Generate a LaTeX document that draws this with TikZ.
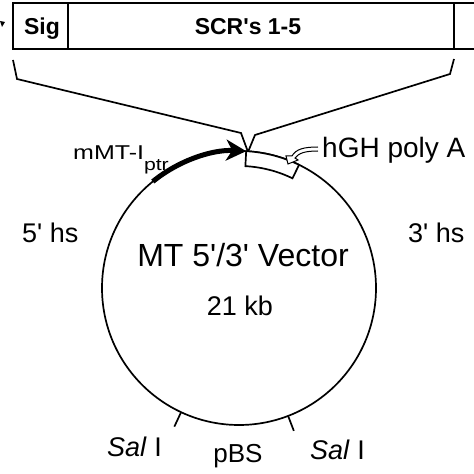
\documentclass[tikz,border=0pt]{standalone}
\usepackage{fontspec}
\setmainfont{Liberation Sans}
\usetikzlibrary{arrows.meta}
\newcommand{\apos}{\textquotesingle}

\begin{document}
\begin{tikzpicture}[x=1pt,y=1pt,
  thinline/.style={line width=1.7pt},
  lbl/.style={inner sep=0pt, anchor=base, font=\fontsize{27}{27}\selectfont},
  barlbl/.style={inner sep=0pt, anchor=base, font=\fontsize{23}{23}\selectfont\bfseries}]

\useasboundingbox (0,0) rectangle (474,474);
\coordinate (c) at (239,186);

% insert bar
\draw[thinline] (474,471) -- (13,471) -- (13,425) -- (474,425);
\draw[thinline] (68,471) -- (68,425);
\draw[thinline] (454,471) -- (454,425);
\fill (0,453) -- (5,452) -- (2,447) -- cycle;

% bracket
\coordinate (v) at (248,322);
\draw[thinline] (13,414) -- (17,395) -- (241,341) -- (v);
\draw[thinline] (454,415) -- (450,400) -- (255,339) -- (v);

% vector
\draw[thinline] (c) circle [radius=137];
\draw[thinline, fill=white] ([shift={(c)}]87:137) arc[start angle=87, end angle=64, radius=137]
  -- ([shift={(c)}]64:122) arc[start angle=64, end angle=87, radius=122] -- cycle;
\draw[line width=5pt, -{Stealth[length=20pt, width=21pt, inset=6pt]}]
  ([shift={(c)}]129:137) arc[start angle=129, end angle=87, radius=137];
\draw[thinline] ([shift={(c)}]245:137) -- ([shift={(c)}]245:153);
\draw[thinline] ([shift={(c)}]291:137) -- ([shift={(c)}]291:153);

% poly A pointer
\draw[line width=1pt, fill=white] (318,327) .. controls (304,327) and (296,325) .. (292,318)
  -- (286,318) -- (288,310) -- (298,314) -- (295,316) .. controls (299,321) and (305,323) .. (318,323);

% nodes
\node[barlbl] (sig) at (42,439) {Sig};
\node[barlbl] (scr) at (248,439) {SCR\apos s 1-5};

\node[lbl, anchor=base west] (mmt) at (73,314)
  {\scalebox{1.25}[1]{\fontsize{20}{20}\selectfont mMT-I\raisebox{-11pt}{\fontsize{17}{17}\selectfont ptr}}};
\node[lbl, anchor=base west, font=\fontsize{28}{28}\selectfont] (hgh) at (322,316) {hGH poly A};

\node[lbl, anchor=base west] (fiveh) at (22,231) {5\apos{} hs};
\node[lbl, anchor=base west] (threeh) at (408,231) {3\apos{} hs};
\node[lbl, font=\fontsize{32}{32}\selectfont] (name) at (243,207) {MT 5\apos/3\apos{} Vector};
\node[lbl] (size) at (240,158) {21 kb};

\node[lbl, anchor=base west] (sall) at (107,17) {\textit{Sal} I};
\node[lbl, anchor=base west] (salr) at (310,14) {\textit{Sal} I};
\node[lbl, font=\fontsize{26}{26}\selectfont] (pbs) at (238,11) {pBS};

\end{tikzpicture}
\end{document}
